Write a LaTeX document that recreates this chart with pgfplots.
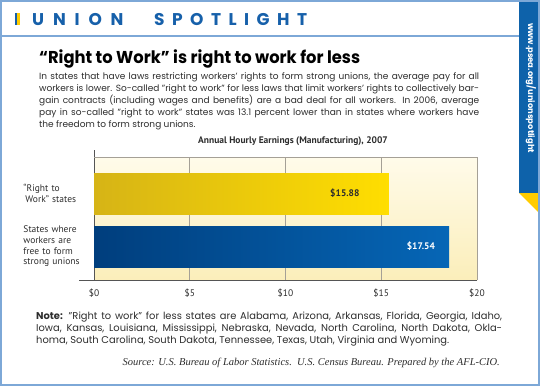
\documentclass[border=0pt]{standalone}
\usepackage{fontspec}
\setmainfont{Poppins}
\newfontfamily\myr{PT Sans}
\newfontfamily\tnr{Liberation Serif}
\usepackage{pgfplots}
\pgfplotsset{compat=1.18}
\definecolor{framec}{RGB}{125,168,215}
\definecolor{stripc}{RGB}{14,98,170}
\definecolor{hdrc}{RGB}{22,96,170}
\definecolor{yelc}{RGB}{255,204,0}
\definecolor{bodyc}{RGB}{45,45,45}
\definecolor{axisc}{RGB}{85,85,85}
\definecolor{gridc}{RGB}{165,160,150}
\definecolor{creamtop}{RGB}{255,251,234}
\definecolor{creambot}{RGB}{251,238,186}
\definecolor{yelA}{RGB}{214,180,22}
\definecolor{yelB}{RGB}{236,207,90}
\definecolor{yelC}{RGB}{255,222,0}
\definecolor{bluA}{RGB}{0,62,125}
\definecolor{bluB}{RGB}{58,102,162}
\definecolor{bluC}{RGB}{6,102,182}
\begin{document}
\begin{tikzpicture}[x=1pt,y=-1pt]
\useasboundingbox (0,0) rectangle (540,386);
\fill[white] (0,0) rectangle (540,386);
% right strip
\fill[stripc] (519,0) rectangle (540,193);
\fill[yelc] (519,193) -- (540,193) -- (540,214) -- cycle;
\node[rotate=-90, anchor=west, inner sep=0, text=white, font=\bfseries\fontsize{8.4}{10}\selectfont] at (531,23) {www.psea.org/unionspotlight};
% frame and header rule
\draw[framec, line width=1.6pt] (0.8,0.8) rectangle (539.2,385.2);
\draw[framec, line width=1.2pt] (0,36) -- (519,36);
% header
\fill[hdrc] (15,13) rectangle (17,25);
\fill[yelc] (17,13) rectangle (19.5,25);
\node[anchor=base west, inner sep=0, text=hdrc, font=\bfseries\fontsize{17}{17}\selectfont\addfontfeatures{LetterSpace=52}] at (32,25) {UNION};
\node[anchor=base west, inner sep=0, text=hdrc, font=\bfseries\fontsize{17}{17}\selectfont\addfontfeatures{LetterSpace=44}] at (154,25) {SPOTLIGHT};
% title
\node[anchor=base west, inner sep=0, text=black, font=\bfseries\fontsize{17.2}{20}\selectfont\addfontfeatures{FakeStretch=0.95}] at (39,63.5) {“Right to Work” is right to work for less};
% paragraph
\begin{scope}[every node/.style={anchor=base west, inner sep=0, text=bodyc, font=\fontsize{9}{12}\selectfont}]
\node at (39,79) {\makebox[440pt][s]{In states that have laws restricting workers' rights to form strong unions, the average pay for all}};
\node at (39,91) {\makebox[440pt][s]{workers is lower. So-called "right to work" for less laws that limit workers' rights to collectively bar-}};
\node at (39,103) {\makebox[440pt][s]{gain contracts (including wages and benefits) are a bad deal for all workers. In 2006, average}};
\node at (39,115) {\makebox[440pt][s]{pay in so-called "right to work" states was 13.1 percent lower than in states where workers have}};
\node at (39,127) {the freedom to form strong unions.};
\end{scope}
\begin{scope}[every node/.style={anchor=base west, inner sep=0, text=bodyc, font=\fontsize{9.9}{12}\selectfont}]
\node at (36,319.5) {\makebox[466pt][s]{\textbf{Note:} "Right to work" for less states are Alabama, Arizona, Arkansas, Florida, Georgia, Idaho,}};
\node at (36,331.5) {\makebox[466pt][s]{Iowa, Kansas, Louisiana, Mississippi, Nebraska, Nevada, North Carolina, North Dakota, Okla-}};
\node at (36,343.5) {homa, South Carolina, South Dakota, Tennessee, Texas, Utah, Virginia and Wyoming.};
\end{scope}
\node[anchor=base east, inner sep=0, text=bodyc, font=\tnr\itshape\fontsize{10.5}{12}\selectfont] at (500,365) {Source: U.S. Bureau of Labor Statistics.\ \ U.S. Census Bureau. Prepared by the AFL-CIO.};
% chart title
\node[anchor=base, inner sep=0, text=bodyc, font=\myr\bfseries\fontsize{9.5}{10}\selectfont] at (293,143.5) {Annual Hourly Earnings (Manufacturing), 2007};
\begin{axis}[
  at={(94pt,-280pt)}, anchor=south west,
  scale only axis, width=383pt, height=123pt,
  xmin=0, xmax=20, ymin=-0.632, ymax=1.689,
  axis x line*=bottom, axis y line*=left,
  x axis line style={-, draw=axisc, line width=1pt, shorten <=-15pt},
  y axis line style={-, draw=axisc, line width=1pt, shorten >=-7pt},
  xtick={0,5,10,15,20}, xticklabels={\$0,\$5,\$10,\$15,\$20},
  ytick={0,1},
  yticklabels={{States where\\workers are\\free to form\\strong unions},{“Right to\\\hspace{2pt}Work” states}},
  major tick length=0pt,
  xmajorgrids, grid style={gridc, line width=0.6pt},
  axis background/.style={top color=creamtop, bottom color=creambot},
  xticklabel style={font=\myr\fontsize{9.5}{10}\selectfont, text=bodyc, yshift=-5pt},
  yticklabel style={font=\myr\fontsize{9.5}{10.7}\selectfont, text=bodyc, align=left, text width=62pt, anchor=east, xshift=-5pt},
  clip=false,
]
\draw[gridc, line width=0.6pt] (rel axis cs:0,1) -- (rel axis cs:1,1) -- (rel axis cs:1,0);
\addplot[xbar, bar width=41pt, draw=none, left color=yelA, middle color=yelB, right color=yelC] coordinates {(15.4,1)};
\addplot[xbar, bar width=41pt, draw=none, left color=bluA, middle color=bluB, right color=bluC] coordinates {(18.54,0)};
\addplot[draw=none, mark=none, nodes near coords, point meta=explicit symbolic,
  nodes near coords style={anchor=center, font=\myr\bfseries\fontsize{9.5}{10}\selectfont, text=bodyc}]
  coordinates {(13.1,1) [\$15.88]};
\addplot[draw=none, mark=none, nodes near coords, point meta=explicit symbolic,
  nodes near coords style={anchor=center, font=\myr\bfseries\fontsize{9.5}{10}\selectfont, text=white}]
  coordinates {(17.07,0) [\$17.54]};
\end{axis}
\end{tikzpicture}
\end{document}
